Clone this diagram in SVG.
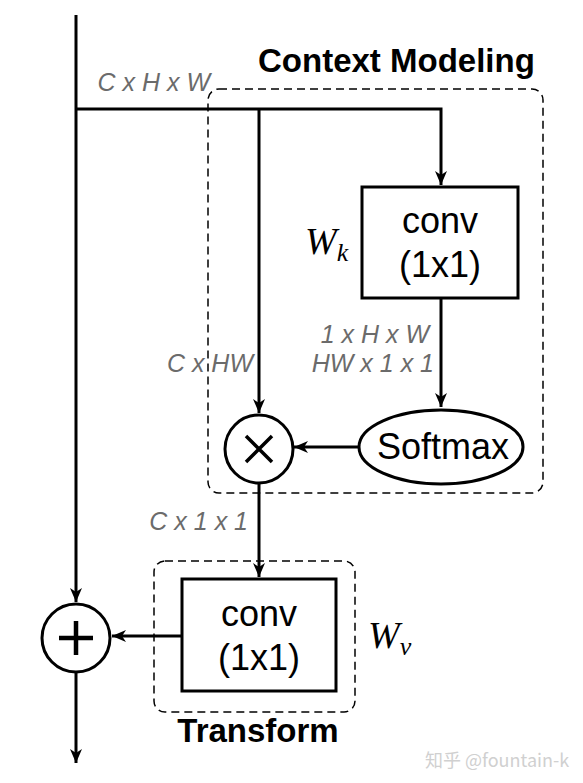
<svg xmlns="http://www.w3.org/2000/svg" width="583" height="783" viewBox="0 0 583 783">
<style>
.ln{stroke:#000;stroke-width:3;fill:none}
.box{stroke:#000;stroke-width:3;fill:#fff}
.dash{stroke:#000;stroke-width:1.5;fill:none;stroke-dasharray:8,5}
.lbl{font-family:"Liberation Sans",Arial,sans-serif;font-style:italic;font-size:25px;fill:#6b6b6b}
.node{font-family:"Liberation Sans",Arial,sans-serif;font-size:36px;fill:#000}
.title{font-family:"Liberation Sans",Arial,sans-serif;font-weight:bold;font-size:33px;fill:#000}
.math{font-family:"Liberation Serif","Times New Roman",serif;font-style:italic;fill:#000}
</style>
<defs>
<marker id="ah" viewBox="0 0 14 12" refX="14" refY="6" markerWidth="14" markerHeight="12" markerUnits="userSpaceOnUse" orient="auto">
<path d="M0,0 L14,6 L0,12 L4,6 z" fill="#000"/>
</marker>
</defs>
<g id="groups">
<rect x="208" y="89" width="335" height="404" rx="11" class="dash"/>
<rect x="154" y="561" width="201" height="151" rx="11" class="dash"/>
<text x="258" y="72" class="title">Context Modeling</text>
<text x="258" y="742" text-anchor="middle" class="title">Transform</text>
</g>
<g id="connectors">
<path d="M76,15 V602" class="ln" marker-end="url(#ah)"/>
<path d="M76,673 V763" class="ln" marker-end="url(#ah)"/>
<path d="M76,109 H441 V185" class="ln" marker-end="url(#ah)"/>
<path d="M259,109 V413" class="ln" marker-end="url(#ah)"/>
<path d="M441,298 V407" class="ln" marker-end="url(#ah)"/>
<path d="M359,447 H294" class="ln" marker-end="url(#ah)"/>
<path d="M259,483 V577" class="ln" marker-end="url(#ah)"/>
<path d="M182,636 H112" class="ln" marker-end="url(#ah)"/>
</g>
<g id="labels">
<text x="210" y="91" text-anchor="end" class="lbl">C x H x W</text>
<text x="429" y="343" text-anchor="end" class="lbl">1 x H x W</text>
<text x="434" y="372" text-anchor="end" class="lbl">HW x 1 x 1</text>
<text x="253" y="372" text-anchor="end" class="lbl">C x HW</text>
<text x="248" y="530" text-anchor="end" class="lbl">C x 1 x 1</text>
</g>
<g id="conv_k">
<rect x="362" y="187" width="156" height="111" class="box"/>
<text x="440" y="233" text-anchor="middle" class="node">conv</text>
<text x="440" y="277" text-anchor="middle" class="node">(1x1)</text>
<text x="305" y="254" class="math" font-size="38">W<tspan font-size="26" dy="7">k</tspan></text>
</g>
<g id="softmax">
<ellipse cx="441" cy="447" rx="82" ry="37" class="box"/>
<text x="443" y="459" text-anchor="middle" class="node">Softmax</text>
</g>
<g id="mult">
<circle cx="259" cy="449" r="34" class="box"/>
<path d="M246,436 L272,462 M272,436 L246,462" stroke="#000" stroke-width="3.5"/>
</g>
<g id="conv_v">
<rect x="182" y="579" width="154" height="112" class="box"/>
<text x="259" y="626" text-anchor="middle" class="node">conv</text>
<text x="259" y="670" text-anchor="middle" class="node">(1x1)</text>
<text x="368" y="648" class="math" font-size="38">W<tspan font-size="26" dy="7">v</tspan></text>
</g>
<g id="add">
<circle cx="76" cy="638" r="34" class="box"/>
<path d="M76,621 V655 M59,638 H93" stroke="#000" stroke-width="4.5"/>
</g>
<text x="425" y="767" font-family="'Noto Sans CJK SC','Liberation Sans',sans-serif" font-size="18" fill="#d0d0d0">知乎 @fountain-k</text>
</svg>
